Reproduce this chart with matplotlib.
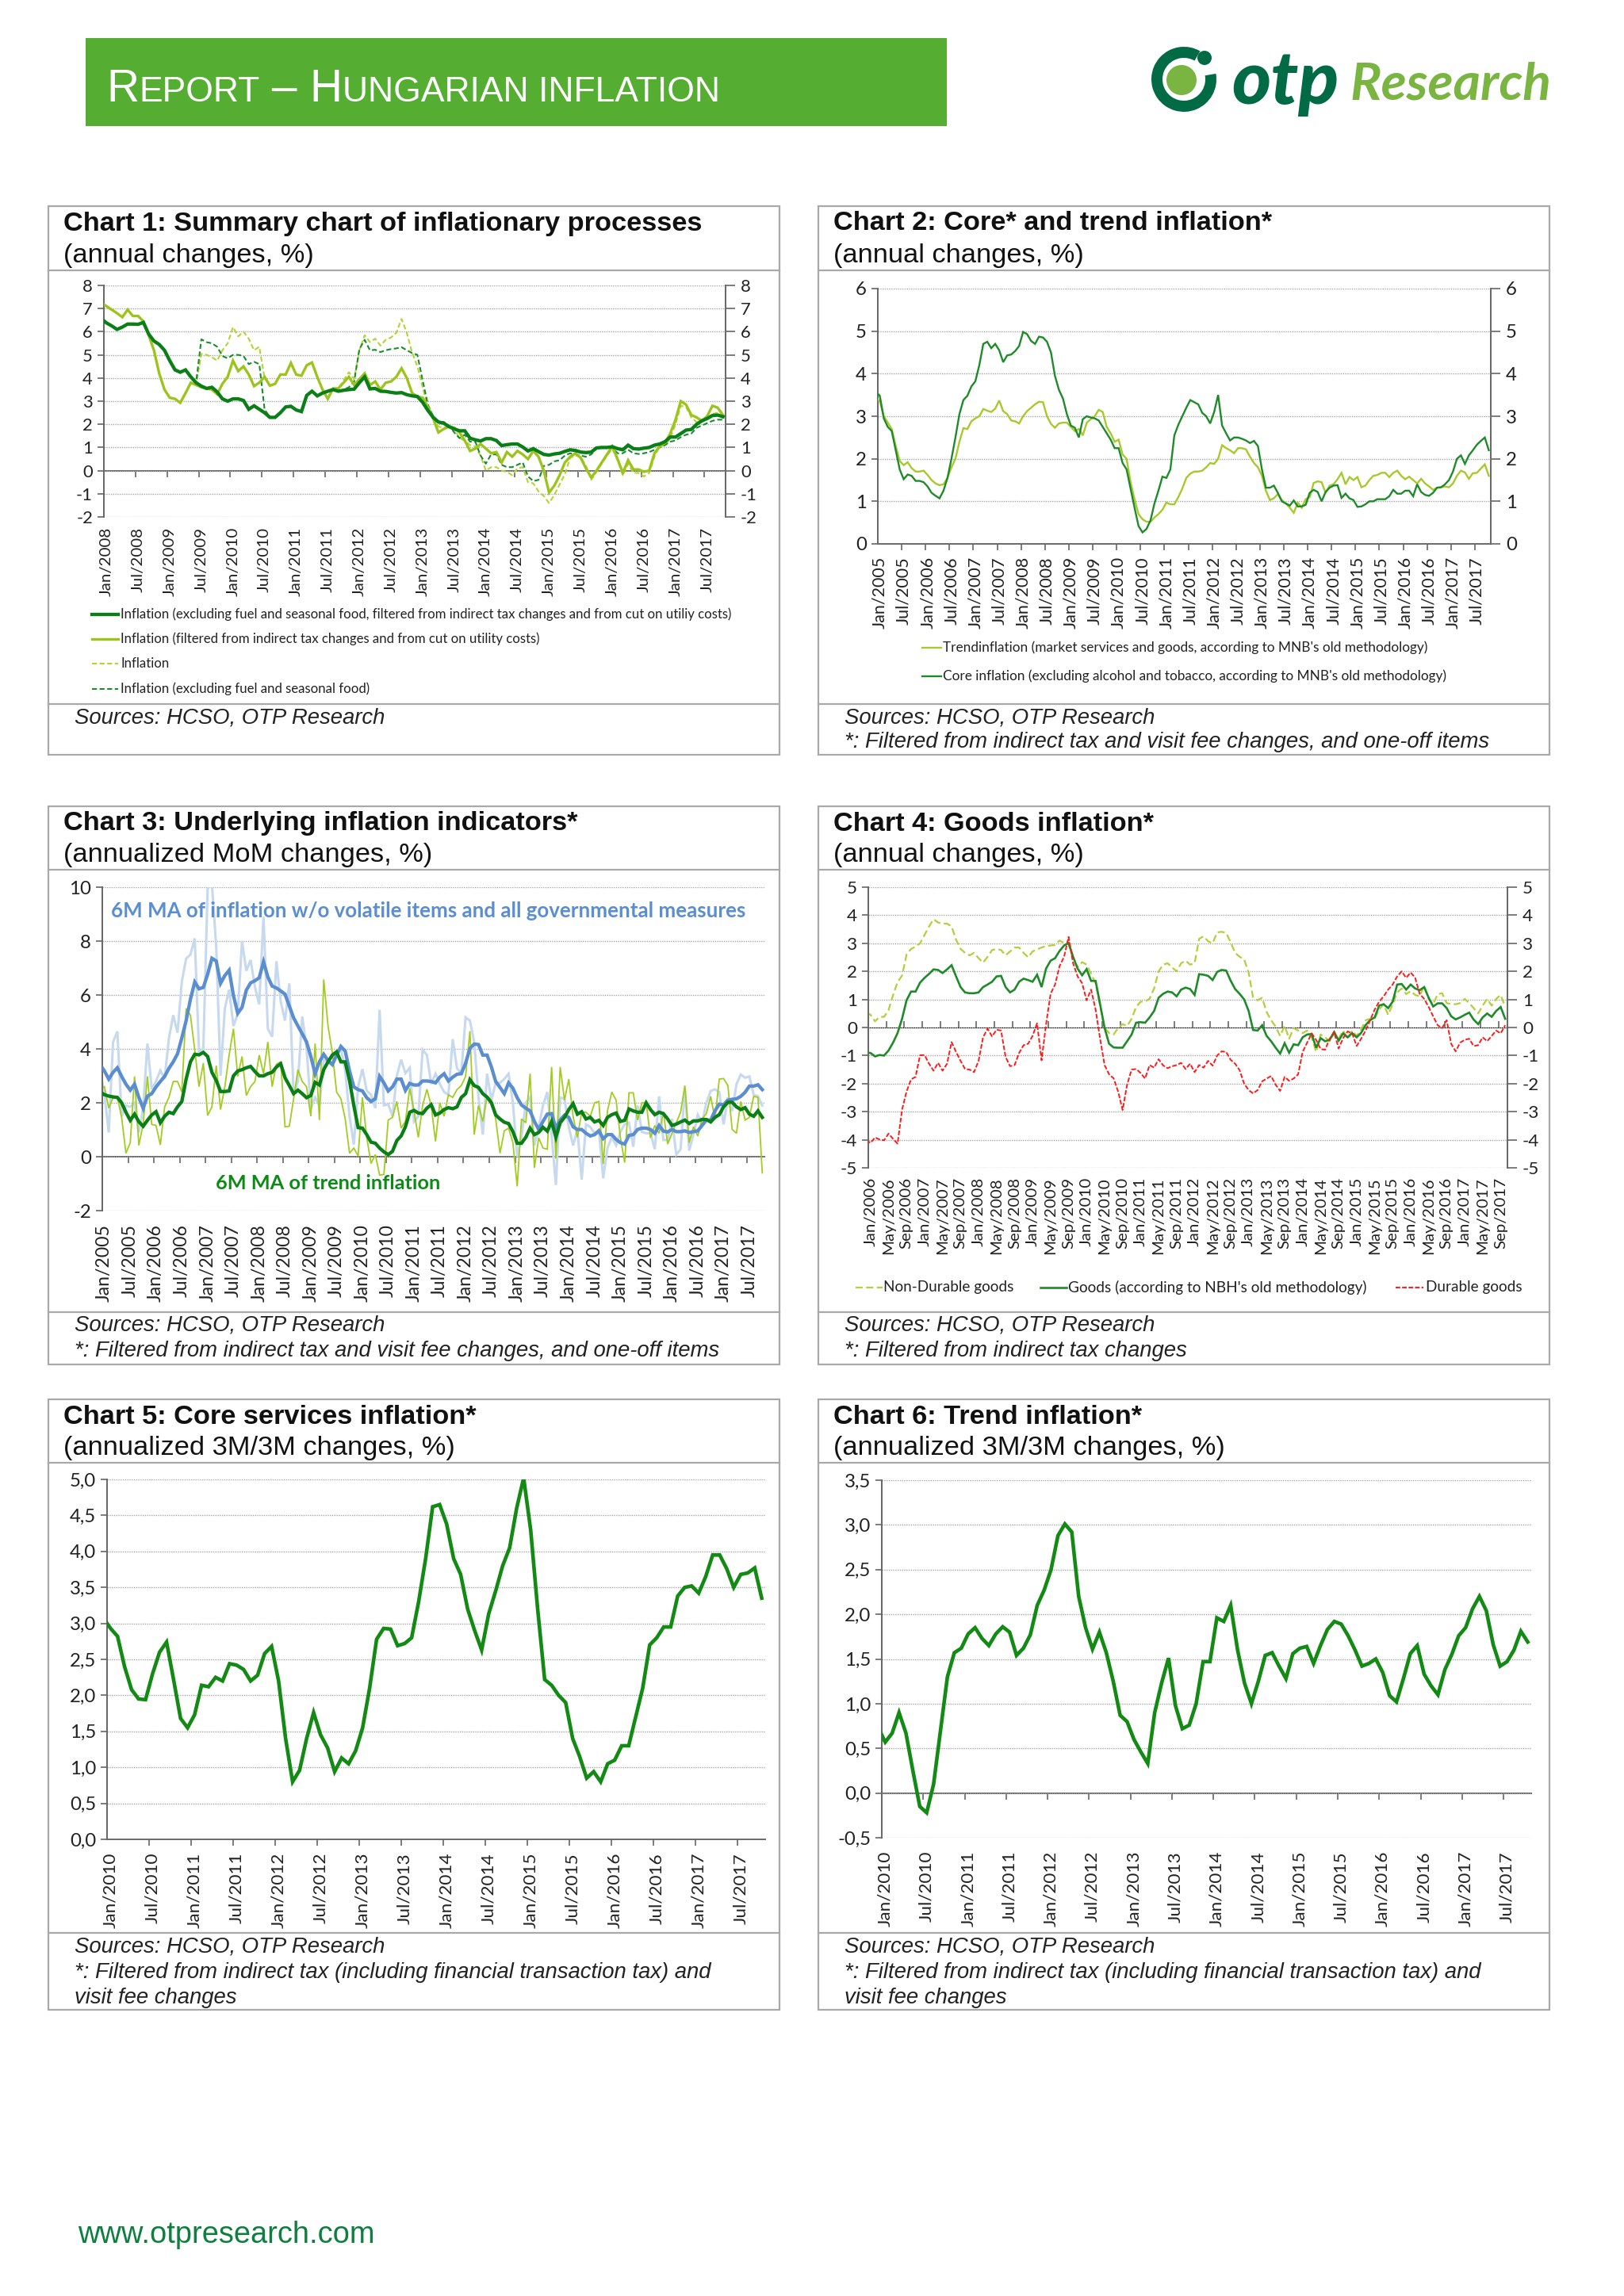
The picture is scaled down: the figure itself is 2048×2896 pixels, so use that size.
import numpy as np
import matplotlib
matplotlib.use('Agg')
import matplotlib.pyplot as plt
from matplotlib.patches import Rectangle, Wedge, Circle

W, H = 2048, 2896

# --- DATA (monthly, first value of each series is the December before the axis starts) ---
# Chart 1, Jan/2008 - Oct/2017
C1_CORE_FILT = [6.57,
    6.38, 6.25, 6.10, 6.20, 6.33, 6.33, 6.32, 6.40, 5.90, 5.60, 5.45, 5.20,
    4.75, 4.35, 4.25, 4.35, 4.05, 3.80, 3.65, 3.55, 3.60, 3.40, 3.10, 3.00,
    3.10, 3.10, 3.03, 2.65, 2.80, 2.65, 2.50, 2.30, 2.30, 2.50, 2.75, 2.78,
    2.62, 2.55, 3.25, 3.43, 3.23, 3.35, 3.43, 3.50, 3.43, 3.47, 3.50, 3.52,
    3.80, 4.05, 3.53, 3.55, 3.43, 3.42, 3.38, 3.35, 3.37, 3.28, 3.23, 3.20,
    2.95, 2.60, 2.30, 2.10, 2.05, 1.90, 1.80, 1.72, 1.72, 1.40, 1.33, 1.28,
    1.38, 1.38, 1.30, 1.08, 1.12, 1.15, 1.15, 1.02, 0.85, 0.95, 0.82, 0.70,
    0.67, 0.72, 0.75, 0.83, 0.90, 0.87, 0.80, 0.78, 0.80, 0.98, 1.00, 1.00,
    1.03, 0.95, 0.90, 1.10, 0.95, 0.93, 0.97, 1.00, 1.10, 1.15, 1.25, 1.45,
    1.45, 1.60, 1.75, 1.78, 2.00, 2.15, 2.25, 2.38, 2.40, 2.33]
C1_FILT = [7.25,
    7.10, 6.95, 6.80, 6.63, 6.95, 6.68, 6.68, 6.45, 5.85, 5.20, 4.20, 3.50,
    3.15, 3.10, 2.93, 3.35, 3.80, 3.70, 3.60, 3.55, 3.50, 3.30, 3.75, 4.05,
    4.75, 4.30, 4.50, 4.15, 3.65, 3.80, 4.05, 3.67, 3.75, 4.15, 4.15, 4.65,
    4.15, 4.10, 4.55, 4.67, 4.05, 3.50, 3.10, 3.55, 3.55, 3.80, 4.05, 3.70,
    3.95, 4.20, 3.70, 3.85, 3.50, 3.80, 3.85, 4.05, 4.42, 4.00, 3.35, 3.20,
    3.15, 2.75, 2.25, 1.65, 1.80, 1.90, 1.85, 1.65, 1.30, 0.85, 0.95, 1.15,
    0.95, 0.75, 0.80, 0.35, 0.80, 0.60, 0.85, 0.70, 0.50, 0.85, 0.60, 0.00,
    -0.95, -0.65, -0.20, 0.35, 0.60, 0.75, 0.55, 0.10, -0.30, 0.00, 0.35, 0.70,
    1.05, 0.50, -0.10, 0.45, 0.05, 0.05, -0.05, 0.00, 0.75, 1.05, 1.20, 1.60,
    2.20, 3.00, 2.85, 2.40, 2.30, 2.15, 2.35, 2.80, 2.72, 2.40]
C1_INFL = C1_FILT[:19] + [
    5.05, 5.00, 4.90, 4.75, 5.20, 5.50,
    6.20, 5.80, 6.00, 5.70, 5.20, 5.35, 4.00] + C1_FILT[32:46] + [3.90, 4.25, 3.95,
    5.20, 5.85, 5.55, 5.70, 5.40, 5.65, 5.75, 5.95, 6.55, 5.95, 5.10, 4.50,
    3.60, 2.75, 2.30, 1.90, 1.85, 1.90, 1.80, 1.40, 1.30, 1.10, 1.05, 0.65,
    0.00, 0.15, 0.15, 0.00, -0.05, -0.20, 0.10, 0.15, -0.50, -0.55, -0.90, -1.10,
    -1.40, -1.05, -0.60, -0.15, 0.55, 0.65, 0.60, 0.20, -0.40, -0.05, 0.30, 0.65,
    0.95, 0.45, -0.20, 0.30, -0.10, -0.10, -0.25, -0.10, 0.60, 1.05, 1.10, 1.40,
    2.00, 2.80, 2.75, 2.30, 2.10, 2.10, 2.25, 2.45, 2.50, 2.25]
C1_CORE = C1_CORE_FILT[:19] + [
    5.67, 5.55, 5.50, 5.35, 4.95, 4.85,
    5.00, 5.00, 4.95, 4.60, 4.70, 4.60, 2.65] + C1_CORE_FILT[32:46] + [3.50, 3.60, 3.85,
    5.25, 5.65, 5.20, 5.22, 5.12, 5.20, 5.25, 5.28, 5.33, 5.20, 5.08, 5.00,
    3.90, 2.85, 2.35, 2.10, 2.10, 1.95, 1.65, 1.40, 1.55, 1.25, 1.25, 0.65,
    0.30, 0.70, 0.70, 0.25, 0.15, 0.15, 0.25, 0.35, -0.25, -0.45, -0.40, 0.20,
    0.25, 0.40, 0.45, 0.65, 0.75, 0.70, 0.65, 0.60, 0.70, 0.95, 1.00, 1.00,
    1.00, 0.75, 0.75, 0.90, 0.75, 0.72, 0.75, 0.80, 0.90, 1.00, 1.10, 1.25,
    1.30, 1.45, 1.55, 1.60, 1.85, 1.95, 2.05, 2.15, 2.20, 2.20]

# Chart 2, Jan/2005 - Oct/2017
C2_TREND = [3.45,
    3.35, 3.00, 2.85, 2.70, 2.30, 1.95, 1.85, 1.92, 1.78, 1.70, 1.70, 1.72,
    1.62, 1.50, 1.42, 1.38, 1.40, 1.55, 1.80, 2.00, 2.40, 2.72, 2.70, 2.88,
    2.95, 3.00, 3.17, 3.13, 3.10, 3.18, 3.37, 3.12, 3.05, 2.90, 2.88, 2.83,
    3.00, 3.12, 3.20, 3.28, 3.34, 3.33, 3.00, 2.82, 2.73, 2.83, 2.85, 2.85,
    2.75, 2.65, 2.70, 2.55, 2.85, 2.93, 3.00, 3.15, 3.10, 2.75, 2.60, 2.40,
    2.45, 2.10, 2.00, 1.45, 1.05, 0.70, 0.58, 0.52, 0.52, 0.62, 0.70, 0.80,
    0.97, 0.93, 0.93, 1.10, 1.30, 1.55, 1.65, 1.70, 1.70, 1.72, 1.80, 1.90,
    1.88, 2.00, 2.32, 2.25, 2.20, 2.13, 2.25, 2.25, 2.22, 2.05, 1.90, 1.80,
    1.60, 1.25, 1.03, 1.07, 1.17, 1.03, 0.95, 0.85, 0.73, 0.97, 0.85, 1.05,
    1.10, 1.43, 1.47, 1.45, 1.20, 1.37, 1.40, 1.52, 1.67, 1.40, 1.57, 1.50,
    1.57, 1.33, 1.37, 1.50, 1.60, 1.62, 1.67, 1.67, 1.57, 1.67, 1.72, 1.60,
    1.52, 1.58, 1.50, 1.42, 1.53, 1.42, 1.35, 1.27, 1.32, 1.33, 1.35, 1.33,
    1.42, 1.60, 1.72, 1.68, 1.53, 1.66, 1.67, 1.77, 1.87, 1.60]
C2_CORE = [3.58,
    3.48, 2.95, 2.75, 2.65, 2.20, 1.75, 1.52, 1.63, 1.60, 1.48, 1.48, 1.45,
    1.35, 1.20, 1.13, 1.07, 1.25, 1.55, 2.00, 2.50, 3.05, 3.38, 3.48, 3.70,
    3.82, 4.20, 4.70, 4.75, 4.60, 4.70, 4.55, 4.27, 4.43, 4.45, 4.53, 4.65,
    4.98, 4.93, 4.77, 4.70, 4.87, 4.85, 4.75, 4.50, 3.95, 3.62, 3.42, 3.05,
    2.78, 2.73, 2.50, 2.93, 3.00, 2.97, 2.95, 2.90, 2.75, 2.60, 2.45, 2.25,
    2.25, 1.90, 1.75, 1.30, 0.85, 0.42, 0.27, 0.35, 0.55, 0.95, 1.25, 1.58,
    1.55, 1.75, 2.55, 2.80, 3.00, 3.20, 3.38, 3.33, 3.28, 3.08, 3.00, 2.83,
    3.10, 3.50, 2.78, 2.60, 2.43, 2.50, 2.50, 2.47, 2.43, 2.37, 2.42, 2.30,
    1.75, 1.32, 1.32, 1.37, 1.20, 1.00, 0.95, 0.90, 1.02, 0.88, 0.88, 0.92,
    1.20, 1.27, 1.22, 1.00, 1.22, 1.32, 1.37, 1.38, 1.08, 1.18, 1.07, 1.03,
    0.87, 0.88, 0.93, 1.00, 1.00, 1.05, 1.05, 1.05, 1.12, 1.27, 1.18, 1.18,
    1.25, 1.25, 1.12, 1.40, 1.22, 1.15, 1.13, 1.20, 1.32, 1.33, 1.40, 1.50,
    1.70, 2.00, 2.08, 1.88, 2.08, 2.20, 2.33, 2.42, 2.50, 2.20]

# Chart 3, Jan/2005 - Oct/2017
C3_BLUE_MA = [3.42,
    3.18, 2.88, 3.13, 3.30, 2.98, 2.69, 2.47, 2.69, 2.20, 1.80, 2.25, 2.34,
    2.59, 2.79, 2.98, 3.28, 3.52, 3.82, 4.41, 5.05, 5.84, 6.48, 6.23, 6.28,
    6.77, 7.36, 7.26, 6.43, 6.72, 6.92, 5.98, 5.32, 5.54, 6.18, 6.45, 6.53,
    6.64, 7.23, 6.67, 6.33, 6.26, 6.15, 6.03, 5.59, 5.15, 4.85, 4.56, 4.26,
    3.72, 3.08, 3.52, 3.80, 3.57, 3.42, 3.77, 4.09, 3.92, 3.18, 2.59, 2.49,
    2.44, 2.19, 2.05, 2.15, 2.98, 2.74, 2.44, 2.59, 2.88, 2.88, 2.46, 2.72,
    2.66, 2.66, 2.81, 2.81, 2.79, 2.74, 2.95, 3.08, 2.81, 2.95, 3.06, 3.08,
    3.47, 4.02, 4.18, 4.16, 3.77, 3.77, 3.33, 2.79, 2.57, 2.34, 2.74, 2.54,
    2.19, 1.92, 1.80, 1.70, 1.31, 1.01, 1.31, 1.58, 1.60, 1.06, 1.36, 1.54,
    1.46, 1.11, 1.01, 1.01, 0.87, 0.77, 0.82, 0.96, 0.67, 0.82, 0.82, 0.64,
    0.52, 0.47, 0.79, 0.82, 1.01, 1.06, 1.06, 1.01, 0.87, 1.16, 0.95, 0.92,
    1.01, 0.93, 0.93, 0.96, 0.90, 0.93, 0.96, 1.16, 1.36, 1.36, 1.70, 1.95,
    1.93, 2.10, 2.13, 2.15, 2.24, 2.39, 2.62, 2.62, 2.67, 2.49]
C3_BLUE_M = [3.20,
    2.30, 0.90, 4.25, 4.65, 1.50, 1.90, 1.85, 2.00, 0.90, 1.80, 4.20, 2.50,
    2.80, 3.20, 2.90, 4.40, 5.25, 4.60, 6.50, 7.35, 7.50, 8.10, 3.90, 4.00,
    9.95, 10.10, 7.80, 3.00, 5.50, 6.20, 4.85, 5.30, 8.00, 6.90, 7.30, 6.30,
    5.65, 8.90, 4.75, 4.45, 7.25, 5.75, 5.05, 6.43, 2.30, 2.80, 5.20, 4.05,
    1.80, 2.20, 1.90, 3.60, 3.50, 3.40, 3.80, 4.00, 3.20, 1.50, 0.45, 2.60,
    3.25, 2.45, 2.30, 1.80, 5.45, 1.90, 1.95, 1.50, 3.00, 3.60, 3.10, 3.30,
    1.30, 1.50, 3.97, 3.77, 2.70, 3.08, 2.70, 2.40, 2.30, 4.36, 3.28, 3.10,
    5.17, 5.05, 4.26, 2.20, 0.82, 3.08, 2.10, 2.74, 2.74, 2.88, 3.08, 2.00,
    0.00, 0.72, 2.00, 2.20, 0.42, 1.10, 1.90, 2.40, 0.82, -1.05, 2.20, 2.15,
    1.10, 0.42, 1.00, -0.85, 1.20, 1.10, 0.87, 1.00, -0.80, 0.32, 0.72, 0.42,
    0.92, 1.20, 1.26, 0.37, 1.90, 0.92, 0.87, 0.87, 0.28, 2.24, 0.62, 0.62,
    1.40, 0.08, 0.28, 2.54, 0.23, 0.82, 1.56, 1.26, 2.00, 2.44, 2.50, 2.40,
    1.20, 2.20, 1.70, 2.69, 3.05, 2.93, 2.98, 2.30, 2.24, 1.90]
C3_GREEN_MA = [2.40,
    2.30, 2.25, 2.22, 2.20, 2.00, 1.65, 1.35, 1.58, 1.30, 1.13, 1.35, 1.55,
    1.67, 1.26, 1.50, 1.65, 1.60, 1.85, 2.05, 2.88, 3.52, 3.80, 3.78, 3.87,
    3.72, 3.13, 2.83, 2.42, 2.42, 2.44, 3.00, 3.18, 3.23, 3.30, 3.35, 3.16,
    3.00, 3.00, 3.08, 3.13, 3.33, 3.45, 2.93, 2.64, 2.34, 2.47, 2.34, 2.19,
    2.27, 2.76, 2.66, 3.23, 3.52, 3.77, 3.89, 3.52, 3.52, 2.83, 1.90, 1.08,
    1.06, 0.82, 0.54, 0.50, 0.32, 0.18, 0.08, 0.20, 0.60, 0.77, 1.11, 1.65,
    1.72, 1.62, 1.60, 1.80, 1.93, 1.55, 1.62, 1.75, 1.82, 1.78, 1.85, 2.20,
    2.34, 2.86, 2.64, 2.57, 2.34, 2.21, 2.00, 1.55, 1.40, 1.28, 1.23, 0.93,
    0.50, 0.50, 0.72, 1.06, 0.82, 0.90, 1.09, 0.95, 1.30, 0.72, 1.26, 1.46,
    1.75, 1.97, 1.58, 1.67, 1.40, 1.46, 1.29, 1.35, 1.16, 1.46, 1.56, 1.62,
    1.31, 1.35, 1.77, 1.70, 1.65, 1.65, 2.00, 1.75, 1.56, 1.65, 1.60, 1.40,
    1.16, 1.21, 1.29, 1.36, 1.23, 1.33, 1.33, 1.38, 1.38, 1.29, 1.46, 1.56,
    1.85, 2.02, 2.02, 1.85, 1.75, 1.82, 1.58, 1.50, 1.70, 1.46]
C3_GREEN_M = [2.50,
    2.60, 1.80, 2.20, 2.20, 1.46, 0.13, 0.52, 2.98, 0.42, 1.20, 2.98, 1.20,
    1.16, 0.44, 1.85, 2.20, 2.79, 2.79, 2.40, 5.50, 5.25, 3.97, 2.60, 3.47,
    1.53, 1.85, 3.38, 1.75, 2.60, 3.77, 4.75, 2.98, 3.72, 2.27, 2.60, 2.79,
    3.77, 3.08, 4.26, 2.60, 3.43, 3.52, 1.11, 1.13, 2.15, 3.23, 2.79, 2.60,
    1.50, 4.20, 1.36, 6.58, 4.85, 3.87, 2.40, 2.15, 1.40, 0.13, 0.32, 0.03,
    2.20, 0.72, -0.25, 0.08, -0.68, -0.66, 1.36, 1.46, 2.05, 1.06, 1.31, 2.54,
    1.70, 0.72, 1.90, 2.50, 1.90, 0.57, 2.00, 1.50, 2.30, 2.20, 2.49, 2.64,
    2.98, 4.66, 0.82, 1.90, 1.31, 2.24, 2.10, 1.40, 0.13, 0.96, 1.06, 0.52,
    -1.10, 1.40, 1.26, 3.08, -0.41, 0.70, 0.32, 0.28, 3.33, -0.07, 3.33, 2.10,
    2.88, 1.50, 0.72, 1.65, 1.65, 1.50, 2.00, 2.05, -0.27, 1.70, 2.40, 2.10,
    0.72, -0.22, 2.37, 2.37, 1.36, 2.00, 2.00, 0.70, 1.16, 0.87, 1.65, 0.47,
    0.87, 1.26, 1.65, 2.64, 0.52, 1.11, 0.77, 1.40, 1.60, 2.24, 1.40, 2.88,
    2.90, 2.64, 1.01, 0.87, 2.05, 1.36, 1.46, 2.24, 2.20, -0.60]

# Chart 4, Jan/2006 - Oct/2017
C4_NONDUR = [0.55,
    0.45, 0.22, 0.38, 0.38, 0.62, 1.15, 1.62, 1.85, 2.60, 2.80, 2.88, 3.00,
    3.30, 3.60, 3.86, 3.74, 3.70, 3.70, 3.60, 3.13, 2.80, 2.66, 2.57, 2.66,
    2.47, 2.31, 2.52, 2.76, 2.80, 2.76, 2.57, 2.71, 2.85, 2.85, 2.66, 2.50,
    2.71, 2.78, 2.85, 2.90, 2.92, 2.94, 3.10, 3.01, 2.97, 2.43, 2.15, 2.33,
    2.24, 1.91, 1.58, 0.78, -0.02, -0.20, -0.25, -0.02, 0.12, 0.05, 0.31, 0.73,
    0.92, 0.92, 1.03, 1.39, 2.00, 2.24, 2.29, 2.14, 2.00, 2.29, 2.38, 2.24,
    2.29, 3.16, 3.25, 3.07, 3.00, 3.39, 3.41, 3.37, 3.04, 2.66, 2.52, 2.43,
    1.96, 1.06, 0.97, 1.06, 0.55, 0.26, 0.03, -0.30, 0.06, -0.40, -0.02, -0.11,
    -0.20, -0.11, -0.35, -0.87, -0.25, -0.35, -0.49, -0.21, -0.40, -0.11, -0.40, -0.11,
    -0.30, -0.07, 0.26, 0.31, 0.31, 0.64, 0.83, 0.45, 0.83, 1.25, 1.39, 1.19,
    1.30, 1.16, 1.11, 1.49, 1.02, 0.83, 1.19, 1.22, 0.87, 0.83, 0.83, 0.87,
    1.02, 0.87, 0.69, 0.50, 0.78, 1.02, 0.78, 1.02, 1.16, 0.73]
C4_GOODS = [-0.89,
    -0.91, -1.03, -0.98, -1.00, -0.82, -0.54, -0.20, 0.31, 0.97, 1.28, 1.28, 1.60,
    1.77, 1.91, 2.07, 2.05, 1.94, 2.07, 2.22, 1.82, 1.44, 1.25, 1.22, 1.22,
    1.25, 1.44, 1.53, 1.63, 1.82, 1.84, 1.44, 1.25, 1.35, 1.63, 1.74, 1.69,
    1.63, 1.88, 1.44, 2.10, 2.38, 2.47, 2.73, 2.92, 3.01, 2.52, 2.10, 1.86,
    2.08, 1.66, 1.66, 0.83, -0.02, -0.58, -0.71, -0.72, -0.72, -0.49, -0.25, 0.17,
    0.19, 0.17, 0.36, 0.59, 1.06, 1.20, 1.28, 1.25, 1.11, 1.35, 1.42, 1.37,
    1.16, 1.90, 1.88, 1.84, 1.69, 1.98, 2.05, 2.03, 1.67, 1.37, 1.20, 1.00,
    0.59, -0.09, -0.11, 0.08, -0.30, -0.49, -0.72, -0.93, -0.56, -0.90, -0.60, -0.63,
    -0.35, -0.25, -0.23, -0.72, -0.38, -0.49, -0.44, -0.16, -0.47, -0.21, -0.35, -0.20,
    -0.35, -0.19, 0.09, 0.26, 0.36, 0.78, 0.83, 0.69, 0.92, 1.53, 1.55, 1.35,
    1.53, 1.39, 1.33, 1.44, 1.06, 0.75, 0.86, 0.86, 0.69, 0.40, 0.29, 0.36,
    0.45, 0.53, 0.28, 0.12, 0.36, 0.50, 0.38, 0.59, 0.73, 0.31]
C4_DURABLE = [-4.02,
    -4.11, -3.92, -3.99, -4.02, -3.78, -3.97, -4.14, -2.93, -2.28, -1.85, -1.76, -0.99,
    -0.98, -1.29, -1.54, -1.26, -1.54, -1.29, -0.52, -0.87, -1.19, -1.48, -1.50, -1.59,
    -1.19, -0.35, -0.04, -0.32, -0.08, -0.11, -1.05, -1.38, -1.34, -0.91, -0.63, -0.58,
    -0.30, 0.15, -1.17, 0.12, 1.20, 1.53, 2.19, 2.52, 3.23, 2.29, 1.82, 1.58,
    0.97, 1.35, 0.64, -0.40, -1.34, -1.67, -1.81, -2.28, -2.94, -2.04, -1.50, -1.48,
    -1.62, -1.82, -1.34, -1.43, -1.13, -1.35, -1.45, -1.38, -1.34, -1.26, -1.48, -1.29,
    -1.59, -1.34, -1.43, -1.19, -1.36, -1.00, -0.85, -0.87, -1.15, -1.29, -1.52, -2.00,
    -2.23, -2.35, -2.23, -1.92, -1.82, -1.73, -2.04, -2.26, -1.76, -1.90, -1.82, -1.67,
    -0.87, -0.54, -0.21, -0.44, -0.77, -0.79, -0.40, -0.16, -0.75, -0.38, -0.14, -0.21,
    -0.66, -0.40, -0.11, 0.26, 0.64, 0.92, 1.11, 1.35, 1.53, 1.82, 2.00, 1.77,
    1.96, 1.77, 1.20, 1.02, 0.73, 0.40, 0.08, -0.02, 0.26, -0.58, -0.85, -0.54,
    -0.44, -0.40, -0.66, -0.63, -0.35, -0.49, -0.30, -0.11, -0.21, 0.08]

# Chart 5, Jan/2010 - Oct/2017
C5_SERVICES = [3.07,
    2.93, 2.82, 2.40, 2.08, 1.95, 1.94, 2.30, 2.60, 2.74, 2.22, 1.68, 1.55,
    1.73, 2.14, 2.12, 2.25, 2.20, 2.44, 2.42, 2.36, 2.20, 2.28, 2.58, 2.68,
    2.20, 1.40, 0.80, 0.96, 1.40, 1.76, 1.45, 1.27, 0.94, 1.13, 1.05, 1.23,
    1.55, 2.10, 2.78, 2.93, 2.92, 2.69, 2.72, 2.80, 3.30, 3.90, 4.62, 4.65,
    4.38, 3.90, 3.68, 3.20, 2.90, 2.63, 3.13, 3.45, 3.80, 4.05, 4.60, 5.02,
    4.30, 3.20, 2.22, 2.14, 2.00, 1.90, 1.40, 1.15, 0.85, 0.94, 0.80, 1.05,
    1.10, 1.30, 1.30, 1.70, 2.10, 2.70, 2.80, 2.95, 2.95, 3.38, 3.50, 3.52,
    3.42, 3.65, 3.95, 3.95, 3.76, 3.50, 3.68, 3.70, 3.77, 3.35]

# Chart 6, Jan/2010 - Oct/2017
C6_TREND = [0.73,
    0.57, 0.67, 0.90, 0.67, 0.25, -0.15, -0.22, 0.10, 0.70, 1.30, 1.57, 1.62,
    1.78, 1.85, 1.73, 1.65, 1.78, 1.86, 1.80, 1.54, 1.62, 1.77, 2.10, 2.27,
    2.50, 2.88, 3.01, 2.92, 2.20, 1.85, 1.61, 1.80, 1.57, 1.25, 0.87, 0.80,
    0.60, 0.46, 0.33, 0.90, 1.23, 1.51, 0.98, 0.72, 0.76, 1.00, 1.47, 1.47,
    1.96, 1.92, 2.10, 1.60, 1.23, 1.00, 1.25, 1.54, 1.57, 1.42, 1.28, 1.56,
    1.62, 1.64, 1.45, 1.65, 1.83, 1.92, 1.89, 1.76, 1.60, 1.42, 1.45, 1.50,
    1.35, 1.09, 1.02, 1.28, 1.56, 1.65, 1.33, 1.20, 1.10, 1.38, 1.55, 1.76,
    1.85, 2.06, 2.20, 2.04, 1.66, 1.42, 1.47, 1.60, 1.81, 1.69]

C1_LEGEND = ['Inflation (excluding fuel and seasonal food, filtered from indirect tax changes and from cut on utiliy costs)',
             'Inflation (filtered from indirect tax changes and from cut on utility costs)',
             'Inflation',
             'Inflation (excluding fuel and seasonal food)']
C2_LEGEND = ["Trendinflation (market services and goods, according to MNB's old methodology)",
             "Core inflation (excluding alcohol and tobacco, according to MNB's old methodology)"]
C4_LEGEND = ['Non-Durable goods', "Goods (according to NBH's old methodology)", 'Durable goods']

# --- COLOURS ---
DARK = '#0b7f17'
LIGHT = '#9cc41c'
MID = '#1f8a2a'
BLUE = '#5b8ed0'
PALE = '#c6d9ee'
LINE5 = '#128a14'
AXIS = '#666666'
GRID = '#a8a8a8'
BORDER = '#a9a9a9'
CALIBRI = 'Lato'
ARIAL = 'Liberation Sans'
TICK = 8

fig = plt.figure(figsize=(W / 100, H / 100), dpi=100, facecolor='white')

# page axes works in reference pixels, everything that is not a chart goes here
page = fig.add_axes([0, 0, 1, 1], zorder=5)
page.set_xlim(0, W)
page.set_ylim(H, 0)
page.axis('off')
page.patch.set_alpha(0)


def pt(px):
    return px * 0.72


def month_labels(start_year, n, step):
    names = ['Jan', 'Feb', 'Mar', 'Apr', 'May', 'Jun', 'Jul', 'Aug', 'Sep', 'Oct', 'Nov', 'Dec']
    idx = list(range(0, n, step))
    return idx, [f'{names[i % 12]}/{start_year + i // 12}' for i in idx]


def chart_axes(box, ylim, yticks, start_year, n, step, xfont, yfont, pad, right=False, fmt='{:d}'):
    l, t, r, b = box
    ax = fig.add_axes([l / W, 1 - b / H, (r - l) / W, (b - t) / H], zorder=2)
    ax.set_xlim(0, n)
    ax.set_ylim(*ylim)
    for s in ['top', 'right', 'bottom']:
        ax.spines[s].set_visible(False)
    ax.spines['left'].set_color(AXIS)
    ax.spines['left'].set_linewidth(1.4)
    ax.set_yticks(yticks)
    ax.set_yticklabels([fmt.format(v).replace('.', ',') for v in yticks], fontsize=pt(yfont), family=CALIBRI, color='#222222')
    ax.tick_params(axis='y', length=pt(TICK), width=1.2, color=AXIS, pad=pt(6))
    ax.yaxis.grid(True, color=GRID, linestyle=(0, (1, 1)), linewidth=1.0)
    ax.set_axisbelow(True)

    idx, labels = month_labels(start_year, n, step)
    ax.set_xticks([i + 0.5 for i in idx])
    ax.set_xticklabels(labels, rotation=90, fontsize=pt(xfont), family=CALIBRI, color='#222222')
    ax.tick_params(axis='x', length=0, pad=pt(pad))

    # category boundary ticks hang off the zero line, as in the Excel original
    zero = (0 - ylim[0]) / (ylim[1] - ylim[0])
    sec = ax.secondary_xaxis(zero)
    sec.set_xticks(list(range(step, n, step)))
    sec.set_xticklabels([])
    sec.tick_params(length=pt(TICK), width=1.2, color=AXIS)
    sec.spines['bottom'].set_color(AXIS)
    sec.spines['bottom'].set_linewidth(1.4)

    if right:
        twin = ax.secondary_yaxis('right')
        twin.set_yticks(yticks)
        twin.set_yticklabels([fmt.format(v) for v in yticks], fontsize=pt(yfont), family=CALIBRI, color='#222222')
        twin.tick_params(length=pt(TICK + 4), width=1.2, color=AXIS, pad=pt(7))
        twin.spines['right'].set_color(AXIS)
        twin.spines['right'].set_linewidth(1.4)
    return ax


def series(ax, vals, color, lw, ls='-', z=3):
    # first value is the month before the axis starts and gets clipped by it
    x = np.arange(len(vals)) - 0.5
    ax.plot(x, vals, color=color, lw=lw, ls=ls, zorder=z, solid_joinstyle='miter', dash_capstyle='butt')


def panel(box, div1, div2, num, title, sub, notes, note_y, title_y, sub_y):
    l, t, r, b = box
    page.add_patch(Rectangle((l, t), r - l, b - t, fill=False, ec=BORDER, lw=1.6))
    page.plot([l, r], [div1, div1], color=BORDER, lw=1.6)
    page.plot([l, r], [div2, div2], color=BORDER, lw=1.6)
    page.text(l + 19, title_y, f'Chart {num}: {title}', family=ARIAL, weight='bold', fontsize=pt(34.4), va='center', color='#111111')
    page.text(l + 19, sub_y, sub, family=ARIAL, fontsize=pt(34.4), va='center', color='#111111')
    for y, note in zip(note_y, notes):
        page.text(l + 33, y, note, family=ARIAL, style='italic', fontsize=pt(27.5), va='center', color='#222222')


def legend_line(x0, x1, y, text, color, lw, ls, size, tx):
    page.plot([x0, x1], [y, y], color=color, lw=lw, ls=ls, dash_capstyle='butt')
    page.text(tx, y, text, family=CALIBRI, fontsize=pt(size), va='center', color='#222222')


# --- HEADER ---
page.add_patch(Rectangle((108, 48), 1086, 111, color='#55ae31', lw=0))
renderer = fig.canvas.get_renderer()
x = 134
for part, size in [('R', 57), ('EPORT', 44.5), (' – ', 57), ('H', 57), ('UNGARIAN INFLATION', 44.5)]:
    txt = page.text(x, 128, part, family=ARIAL, color='white', fontsize=pt(size), va='baseline')
    txt_w = txt.get_window_extent(renderer).width
    if part.startswith(' '):
        txt_w = size * 1.11
    x += txt_w

# logo
page.add_patch(Wedge((1493, 100), 41, -10, 300, width=14, color='#006b45', lw=0))
page.add_patch(Circle((1490, 101), 19, color='#7ab542', lw=0))
page.add_patch(Circle((1519, 73), 9, color='#006b45', lw=0))
page.text(1553, 131, 'otp', family='Lato', weight='black', style='italic', fontsize=pt(94), color='#006b45', va='baseline')
page.text(1702, 126, 'Research', family='Lato', style='italic', weight='bold', fontsize=pt(66), color='#7ab542', va='baseline')

page.text(98, 2819, 'www.otpresearch.com', family=ARIAL, fontsize=pt(38), color='#0e7f3f', va='center')

# --- PANELS ---
SRC = 'Sources: HCSO, OTP Research'
panel((61, 260, 983, 952), 341, 888, 1, 'Summary chart of inflationary processes', '(annual changes, %)',
      [SRC], [905], 282, 323)
panel((1032, 260, 1954, 952), 341, 888, 2, 'Core* and trend inflation*', '(annual changes, %)',
      [SRC, '*: Filtered from indirect tax and visit fee changes, and one-off items'], [905, 936], 282, 323)
panel((61, 1017, 983, 1721), 1097, 1655, 3, 'Underlying inflation indicators*', '(annualized MoM changes, %)',
      [SRC, '*: Filtered from indirect tax and visit fee changes, and one-off items'], [1672, 1704], 1039, 1079)
panel((1032, 1017, 1954, 1721), 1097, 1655, 4, 'Goods inflation*', '(annual changes, %)',
      [SRC, '*: Filtered from indirect tax changes'], [1672, 1704], 1039, 1079)
FTT = ['*: Filtered from indirect tax (including financial transaction tax) and', 'visit fee changes']
panel((61, 1765, 983, 2535), 1845, 2438, 5, 'Core services inflation*', '(annualized 3M/3M changes, %)',
      [SRC] + FTT, [2456, 2488, 2520], 1787, 1827)
panel((1032, 1765, 1954, 2535), 1845, 2438, 6, 'Trend inflation*', '(annualized 3M/3M changes, %)',
      [SRC] + FTT, [2456, 2488, 2520], 1787, 1827)

# Chart 1
ax1 = chart_axes((131, 360, 915, 652), (-2, 8), list(range(-2, 9)), 2008, 118, 6, 20.5, 22, 13, right=True)
series(ax1, C1_INFL, '#b5d334', 1.5, (0, (3, 1.6)), 2)
series(ax1, C1_CORE, '#1b8c2e', 1.5, (0, (3, 1.6)), 2)
series(ax1, C1_FILT, LIGHT, 2.4, z=3)
series(ax1, C1_CORE_FILT, DARK, 3.1, z=4)
for y, text, col, lw, ls in zip([775, 806, 837, 869], C1_LEGEND,
                                [DARK, LIGHT, '#b5d334', '#1b8c2e'], [3.1, 2.4, 1.5, 1.5],
                                ['-', '-', (0, (3, 1.6)), (0, (3, 1.6))]):
    legend_line(116, 149, y, text, col, lw, ls, 16.8, 152)

# Chart 2
ax2 = chart_axes((1107, 364, 1880, 686), (0, 6), list(range(0, 7)), 2005, 154, 6, 21.5, 24, 16, right=True)
series(ax2, C2_TREND, '#a7c92b', 1.7)
series(ax2, C2_CORE, MID, 1.7)
legend_line(1163, 1187, 817, C2_LEGEND[0], '#a7c92b', 1.7, '-', 17.25, 1189)
legend_line(1163, 1187, 853, C2_LEGEND[1], MID, 1.7, '-', 17.25, 1189)

# Chart 3
ax3 = chart_axes((129, 1119, 964, 1527), (-2, 10), list(range(-2, 11, 2)), 2005, 154, 6, 23, 24, 17)
series(ax3, C3_BLUE_M, PALE, 2.2, z=2)
series(ax3, C3_GREEN_M, '#a3cc20', 1.3, z=2.5)
series(ax3, C3_BLUE_MA, BLUE, 3.1, z=3)
series(ax3, C3_GREEN_MA, DARK, 3.1, z=4)
page.text(140, 1149, '6M MA of inflation w/o volatile items and all governmental measures', family=CALIBRI,
          weight='bold', fontsize=pt(25.9), color=BLUE, va='center')
page.text(272, 1492, '6M MA of trend inflation', family=CALIBRI, weight='bold', fontsize=pt(25.4), color='#0b8a16', va='center')

# Chart 4
ax4 = chart_axes((1095, 1119, 1901, 1473), (-5, 5), list(range(-5, 6)), 2006, 142, 4, 20.5, 22.5, 12, right=True)
series(ax4, C4_NONDUR, '#b3cf3a', 1.6, (0, (4, 2)), 2)
series(ax4, C4_GOODS, MID, 1.9, z=3)
series(ax4, C4_DURABLE, '#ff1a1a', 1.4, (0, (3, 1.2)), 4)
legend_line(1079, 1113, 1624, C4_LEGEND[0], '#b3cf3a', 1.6, (0, (4, 2)), 19, 1114)
legend_line(1312, 1345, 1624, C4_LEGEND[1], MID, 1.9, '-', 19, 1347)
legend_line(1760, 1795, 1624, C4_LEGEND[2], '#ff1a1a', 1.4, (0, (3, 1.2)), 19, 1798)

# Chart 5
ticks5 = [v / 2 for v in range(0, 11)]
ax5 = chart_axes((135, 1866, 965, 2320), (0, 5), ticks5, 2010, 94, 6, 22.5, 24, 17, fmt='{:.1f}')
series(ax5, C5_SERVICES, LINE5, 3.3)

# Chart 6
ticks6 = [v / 2 for v in range(-1, 8)]
ax6 = chart_axes((1112, 1867, 1931, 2318), (-0.5, 3.5), ticks6, 2010, 94, 6, 22.5, 24, 17, fmt='{:.1f}')
series(ax6, C6_TREND, LINE5, 3.3)

fig.savefig('out.png', dpi=100, facecolor='white')
